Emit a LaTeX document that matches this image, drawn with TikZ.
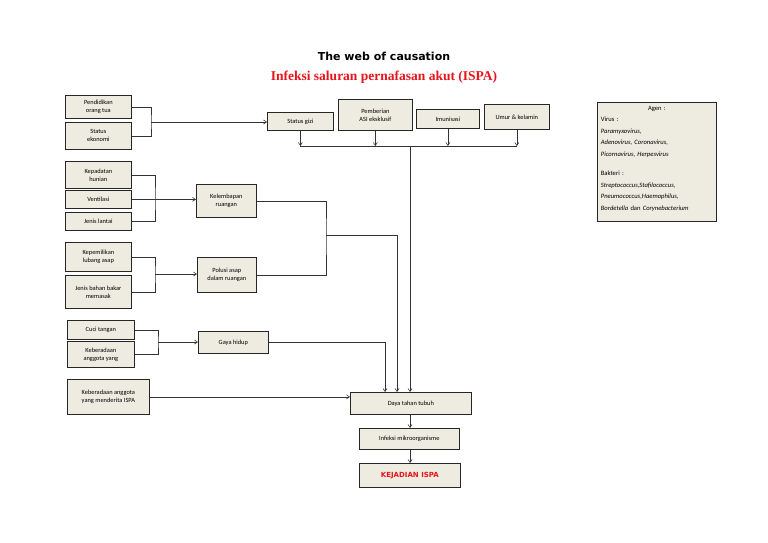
\documentclass[tikz,border=0pt]{standalone}
\usepackage{fontspec}
\setmainfont{Carlito}
\newfontfamily\titlefont{DejaVu Sans}
\newfontfamily\redfont{Liberation Serif}
\usetikzlibrary{arrows.meta,shadows}
\definecolor{boxfill}{HTML}{EEECE1}
\definecolor{ispared}{HTML}{E8141B}
\tikzset{
  bx/.style={draw=black!85, line width=0.7pt, fill=boxfill, anchor=north west, inner sep=1pt,
     font=\fontsize{6.4}{8}\selectfont, align=center,
     drop shadow={shadow xshift=0.8pt, shadow yshift=-0.8pt, fill=black!60}},
  ln/.style={draw=black!80, line width=0.6pt},
  arr/.style={ln, -{Straight Barb[length=3pt,width=4pt]}},
}
\newcommand{\bxn}[6]{\node[bx, minimum width=#4-#2, minimum height=#5-#3] (#1) at (#2,#3) {#6};}
\begin{document}
\begin{tikzpicture}[x=1pt,y=-1pt]
\useasboundingbox (0,0) rectangle (768,543);
\node (t1) at (384,56) {\titlefont\bfseries\fontsize{11}{13}\selectfont The web of causation};
\node[text=ispared] (t2) at (384,77) {\redfont\bfseries\fontsize{13.5}{15}\selectfont Infeksi saluran pernafasan akut (ISPA)};
% left boxes
\bxn{pend}{65}{95}{131}{118}{Pendidikan\\orang tua}
\bxn{stat}{65}{122}{131}{149}{Status\\ekonomi}
\bxn{kep}{65}{161}{131}{188}{Kepadatan\\hunian}
\bxn{vent}{65}{190}{131}{208}{Ventilasi}
\bxn{lant}{65}{212}{131}{230}{Jenis lantai}
\bxn{lub}{65}{242}{131}{271}{Kepemilikan\\lubang asap}
\bxn{bakar}{65}{275}{131}{308}{Jenis bahan bakar\\memasak}
\bxn{cuci}{67}{320}{134}{339}{Cuci tangan}
\bxn{angg}{67}{341}{134}{367}{Keberadaan\\anggota yang}
\bxn{isp}{67}{379}{149}{414}{Keberadaan anggota\\yang menderita ISPA}
% middle
\bxn{lembab}{196}{184}{256}{217}{Kelembapan\\ruangan}
\bxn{polusi}{197}{257}{256}{292}{Polusi asap\\dalam ruangan}
\bxn{gaya}{198}{331}{268}{353}{Gaya hidup}
% top
\bxn{gizi}{267}{112}{333}{130}{Status gizi}
\bxn{asi}{338}{99}{412}{130}{Pemberian\\ASI eksklusif}
\bxn{imun}{416}{109}{479}{128}{Imunisasi}
\bxn{umur}{484}{104}{549}{129}{Umur \& kelamin}
% bottom chain
\bxn{daya}{350}{392}{471}{414}{Daya tahan tubuh}
\bxn{inf}{359}{428}{459}{449}{Infeksi mikroorganisme}
\node[bx, minimum width=101, minimum height=24, font=\fontsize{7}{8}\selectfont\bfseries, text=ispared] (kej) at (359,463) {\titlefont KEJADIAN ISPA};
% agen
\node[bx, minimum width=119, minimum height=119, text width=112, align=left, anchor=north west, inner sep=3pt, font=\fontsize{6.6}{11.5}\selectfont] (agen) at (597,102) {\vbox to 112pt{%
\centerline{Agen :}\par
Virus :\\
\textit{Paramyxovirus,}\\
\textit{Adenovirus, Coronavirus,}\\
\textit{Picornavirus, Herpesvirus}\\[8pt]
Bakteri :\\
\textit{Streptococcus,Stafilococcus,}\\
\textit{Pneumococcus,Haemophilus,}\\
\textit{Bordetella} dan \textit{Corynebacterium}\vfill}};
% connectors
\coordinate (b1) at (151,122);
\draw[ln] (pend.east) -| (b1) |- (stat.east);
\draw[arr] (b1) -- (b1 -| gizi.west);
\coordinate (b2) at (155,199);
\draw[ln] (kep.east) -| (b2) |- (lant.east);
\draw[arr] (vent.east) -- (vent.east -| lembab.west);
\coordinate (b3) at (155,274);
\draw[ln] (lub.east) -| (b3) |- (bakar.east);
\draw[arr] (b3) -- (b3 -| polusi.west);
\coordinate (b4) at (158,342);
\draw[ln] (cuci.east) -| (b4) |- (angg.east);
\draw[arr] (b4) -- (b4 -| gaya.west);
\coordinate (h) at (0,146);
\foreach \n in {gizi,asi,imun,umur} \draw[arr] (\n.south) -- (\n.south |- h);
\draw[ln] (gizi.south |- h) -- (umur.south |- h);
\coordinate (v1) at (410,146);
\draw[arr] (v1) -- (v1 |- daya.north);
\coordinate (m1) at (326,235);
\draw[ln] (lembab.east) -| (m1) |- (polusi.east);
\coordinate (m2) at (397,235);
\draw[ln] (m1) -- (m2);
\draw[arr] (m2) -- (m2 |- daya.north);
\coordinate (g1) at (385,342);
\draw[ln] (gaya.east) -| (g1);
\draw[arr] (g1) -- (g1 |- daya.north);
\draw[arr] (isp.east) -- (isp.east -| daya.west);
\draw[arr] (daya.south -| v1) -- (inf.north -| v1);
\draw[arr] (inf.south -| v1) -- (kej.north -| v1);
\end{tikzpicture}
\end{document}
